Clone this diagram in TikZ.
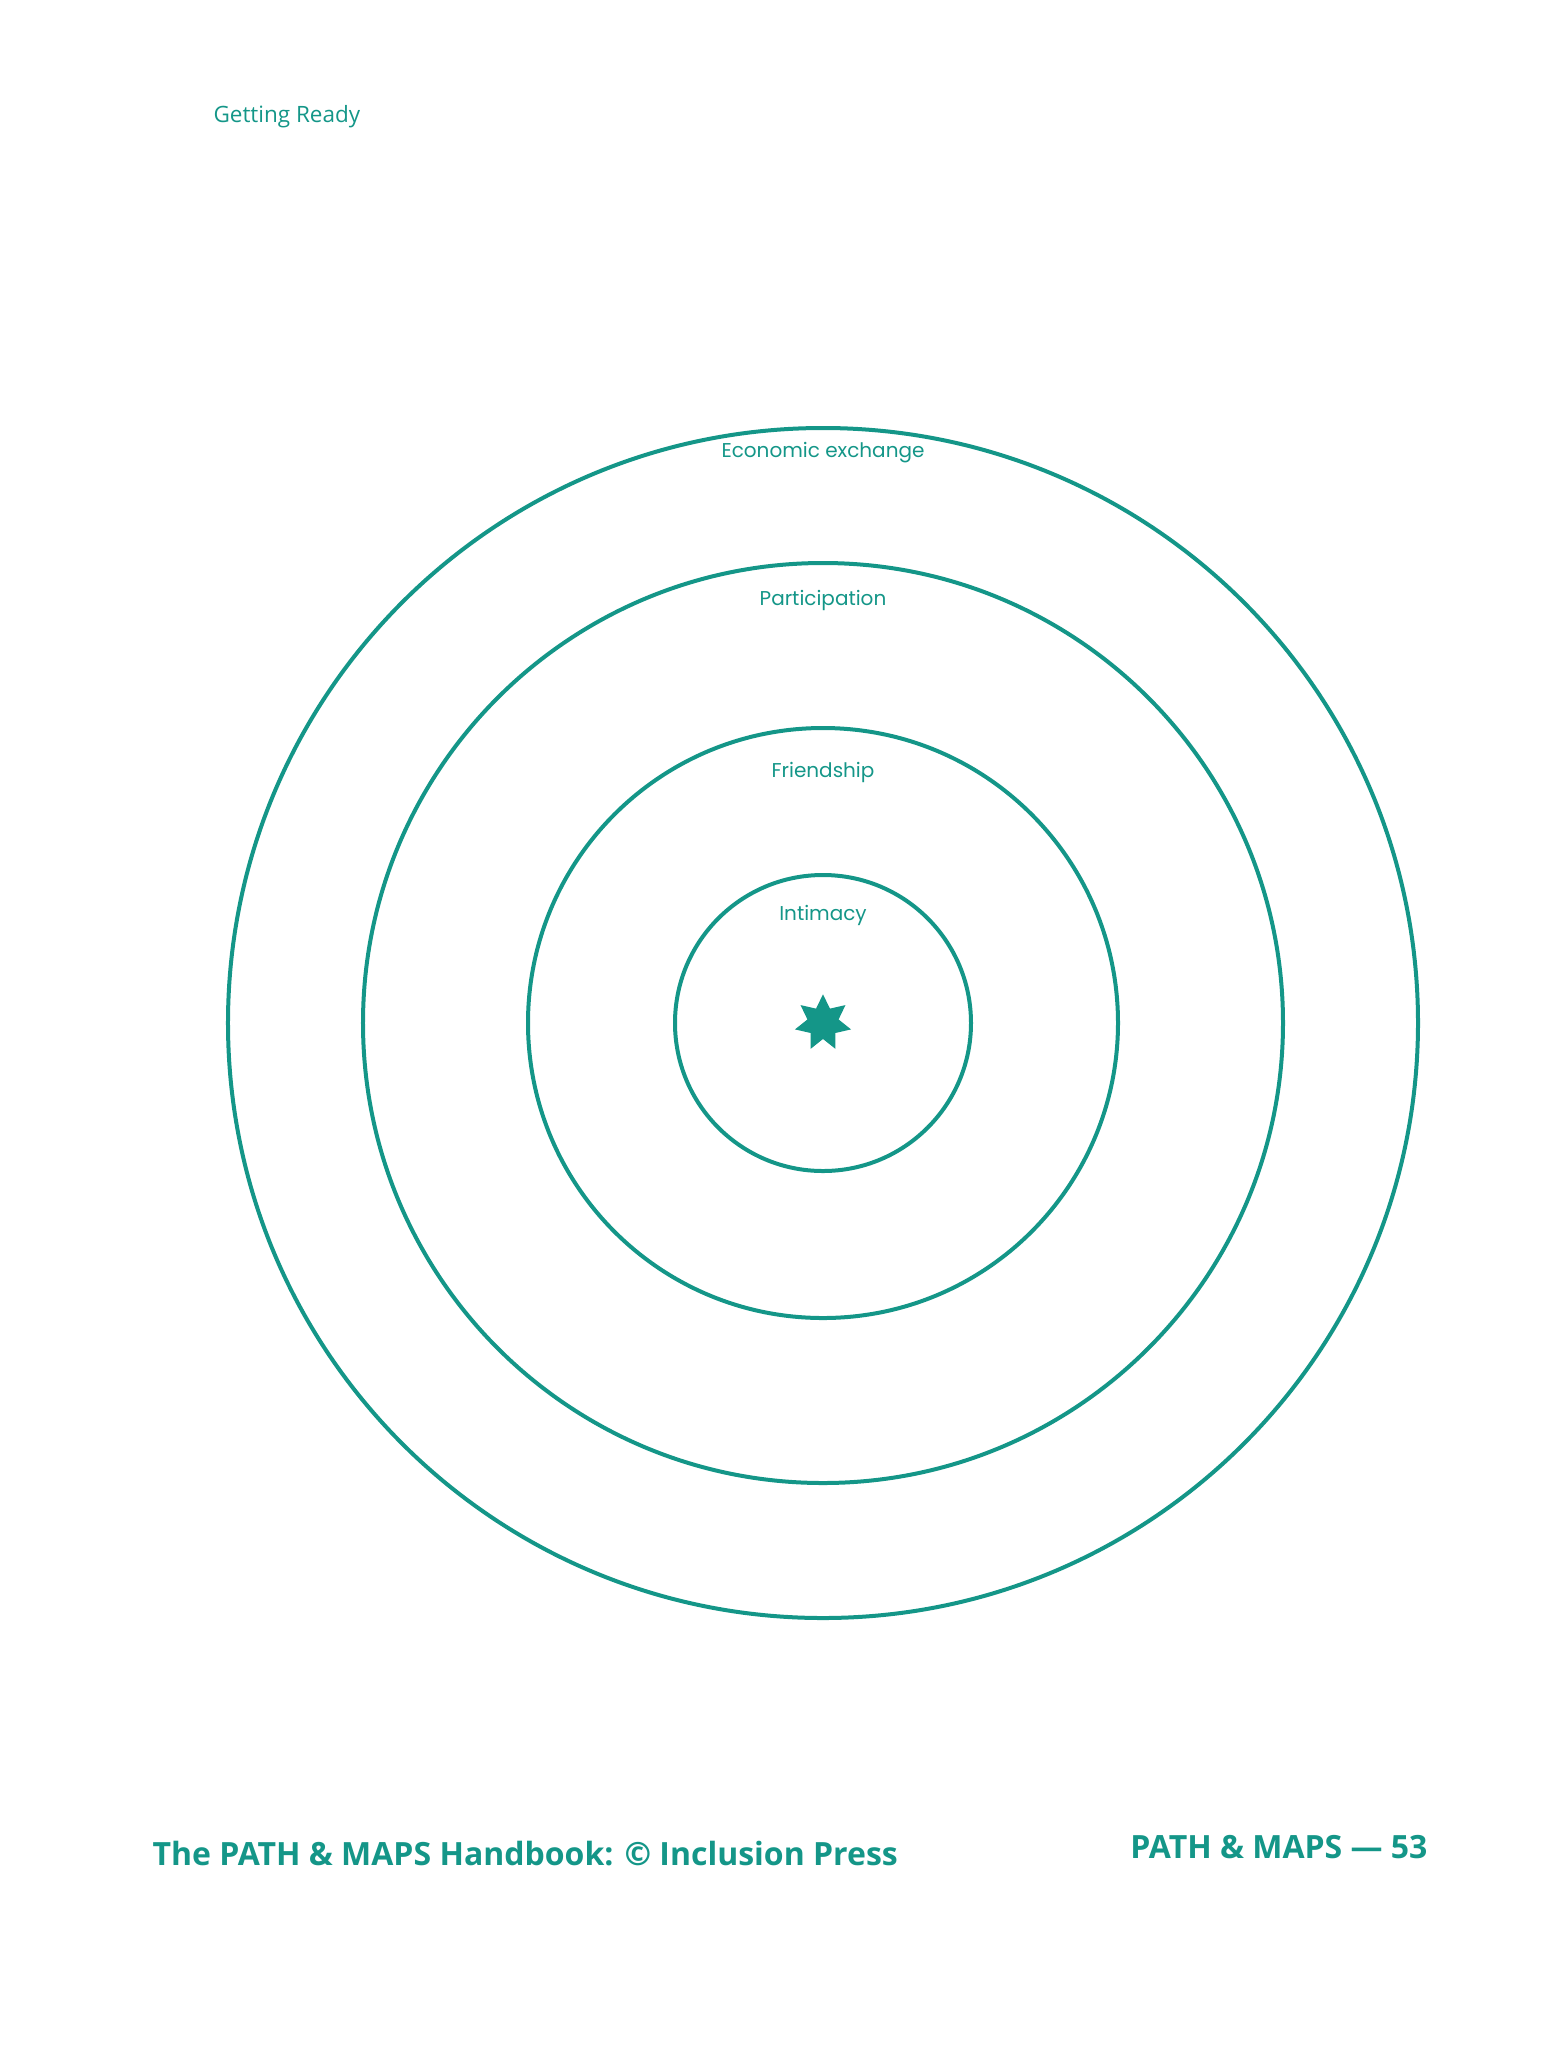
\documentclass[tikz,border=0pt]{standalone}
\usepackage{fontspec}
\setmainfont{Open Sans}
\newfontfamily\ringfont{Poppins}
\usetikzlibrary{shapes.geometric,positioning}
\definecolor{inkteal}{RGB}{20,150,136}

\begin{document}
\begin{tikzpicture}[
    x=0.4pt, y=-0.4pt,
    ring/.style={circle, draw=inkteal, line width=1.6pt, inner sep=0pt},
    ringlabel/.style={text=inkteal, font=\ringfont\fontsize{8}{10}\selectfont, inner sep=0pt},
    header/.style={text=inkteal, font=\fontsize{9}{11}\selectfont, inner sep=0pt},
    footer/.style={text=inkteal, font=\bfseries\fontsize{12.8}{15}\selectfont, inner sep=0pt},
    centre/.style={star, star points=7, star point ratio=1.8, fill=inkteal, minimum size=23pt, inner sep=0pt}
]
\useasboundingbox (0,0) rectangle (1547,2048);

% Header
\node[header, anchor=west] (head) at (213,117) {Getting Ready};

% Rings
\coordinate (c) at (823,1023);
\node[ring, minimum size=476pt] (econ) at (c) {};
\node[ring, minimum size=368pt] (part) at (c) {};
\node[ring, minimum size=236pt] (friend) at (c) {};
\node[ring, minimum size=118.4pt] (intim) at (c) {};

% Centre star
\node[centre] (self) at (c) {};

% Ring labels
\node[ringlabel] (econ_lbl) at (823,453) {Economic exchange};
\node[ringlabel] (part_lbl) at (823,600) {Participation};
\node[ringlabel] (friend_lbl) at (823,772) {Friendship};
\node[ringlabel] (intim_lbl) at (823,915) {Intimacy};

% Footer
\node[footer, anchor=west] (foot_l) at (152,1854) {The PATH \& MAPS Handbook: © Inclusion Press};
\node[footer, anchor=east] (foot_r) at (1428,1847) {PATH \& MAPS — 53};

\end{tikzpicture}
\end{document}
